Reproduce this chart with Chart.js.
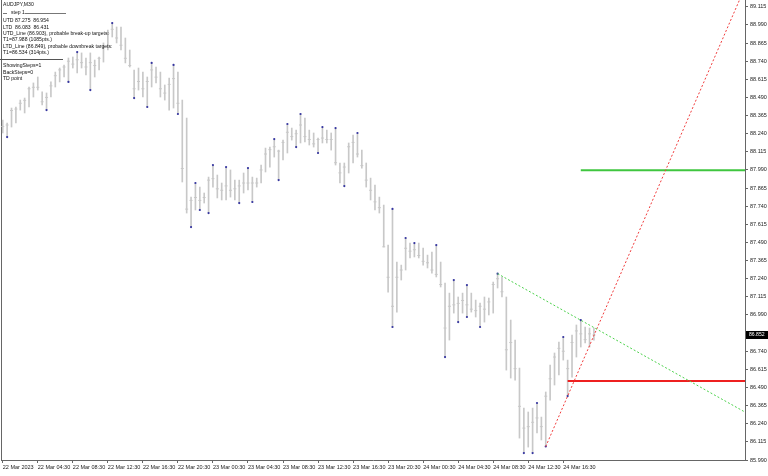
<!DOCTYPE html>
<html>
<head>
<meta charset="utf-8">
<script src="https://cdn.jsdelivr.net/npm/chart.js@4.4.0/dist/chart.umd.min.js"></script>
<style>
  body { margin: 0; background: #fff; }
  #wrap { width: 768px; height: 476px; }
</style>
</head>
<body>
<div id="wrap"><canvas id="chart" width="768" height="476"></canvas></div>
<script>
// AUDJPY M30 bars, 22 Mar 00:30 .. 24 Mar 20:00
const highs = [
  88.334, 88.314, 88.417, 88.424, 88.472, 88.486, 88.562, 88.590, 88.631, 88.528,
  88.521, 88.597, 88.665, 88.693, 88.714, 88.762, 88.769, 88.803, 88.797, 88.762,
  88.797, 88.748, 88.769, 88.866, 88.955, 89.003, 88.976, 88.976, 88.900, 88.817,
  88.679, 88.693, 88.665, 88.631, 88.728, 88.700, 88.665, 88.576, 88.624, 88.714,
  88.665, 88.472, 88.348, 87.803, 87.900, 87.872, 87.831, 87.941, 88.024, 87.955,
  87.900, 88.010, 87.990, 87.920, 87.920, 87.969, 88.003, 87.941, 87.934, 88.024,
  88.141, 88.148, 88.203, 88.127, 88.196, 88.307, 88.279, 88.265, 88.376, 88.348,
  88.265, 88.245, 88.210, 88.286, 88.265, 88.245, 88.279, 88.038, 88.038, 88.176,
  88.231, 88.245, 88.127, 88.038, 87.934, 87.886, 87.803, 87.748, 87.472, 87.721,
  87.355, 87.334, 87.521, 87.486, 87.486, 87.486, 87.452, 87.403, 87.424, 87.472,
  87.355, 87.210, 87.141, 87.231, 87.114, 87.141, 87.196, 87.141, 87.093, 87.072,
  87.114, 87.107, 87.217, 87.275, 87.252, 87.114, 86.955, 86.817, 86.624, 86.348,
  86.321, 86.348, 86.383, 86.286, 86.459, 86.645, 86.728, 86.803, 86.838, 86.679,
  86.852, 86.921, 86.954, 86.907, 86.900, 86.900
];
const lows = [
  88.245, 88.217, 88.286, 88.314, 88.403, 88.383, 88.424, 88.493, 88.541, 88.438,
  88.403, 88.493, 88.562, 88.597, 88.631, 88.597, 88.693, 88.659, 88.693, 88.645,
  88.541, 88.631, 88.679, 88.734, 88.817, 88.907, 88.866, 88.817, 88.728, 88.700,
  88.486, 88.541, 88.493, 88.424, 88.562, 88.590, 88.493, 88.472, 88.403, 88.417,
  88.376, 87.907, 87.693, 87.596, 87.714, 87.714, 87.762, 87.693, 87.872, 87.797,
  87.783, 87.783, 87.803, 87.783, 87.762, 87.831, 87.852, 87.769, 87.872, 87.900,
  87.976, 88.010, 88.079, 87.920, 88.059, 88.107, 88.196, 88.148, 88.176, 88.183,
  88.162, 88.148, 88.107, 88.176, 88.176, 88.127, 88.024, 87.900, 87.879, 87.969,
  88.038, 88.079, 88.003, 87.872, 87.783, 87.714, 87.693, 87.459, 87.148, 86.907,
  87.010, 87.231, 87.300, 87.383, 87.390, 87.383, 87.334, 87.314, 87.279, 87.252,
  87.183, 86.700, 86.817, 87.003, 86.941, 87.003, 86.976, 87.010, 86.976, 86.907,
  86.941, 86.990, 87.003, 87.176, 87.114, 86.610, 86.555, 86.541, 86.141, 86.038,
  86.079, 86.038, 86.176, 86.128, 86.083, 86.403, 86.507, 86.576, 86.679, 86.431,
  86.562, 86.700, 86.769, 86.797, 86.769, 86.817
];
const closes = [
  88.29, 88.30, 88.40, 88.41, 88.45, 88.47, 88.55, 88.56, 88.56, 88.46,
  88.49, 88.57, 88.64, 88.68, 88.70, 88.74, 88.72, 88.75, 88.73, 88.70,
  88.73, 88.71, 88.76, 88.84, 88.93, 88.96, 88.90, 88.85, 88.76, 88.71,
  88.55, 88.60, 88.55, 88.60, 88.68, 88.63, 88.55, 88.52, 88.58, 88.62,
  88.45, 88.00, 87.72, 87.78, 87.80, 87.78, 87.80, 87.92, 87.93, 87.86,
  87.85, 87.88, 87.85, 87.86, 87.88, 87.90, 87.90, 87.90, 87.90, 87.99,
  88.10, 88.13, 88.15, 88.12, 88.18, 88.25, 88.22, 88.24, 88.30, 88.22,
  88.20, 88.17, 88.20, 88.21, 88.20, 88.20, 88.04, 87.97, 88.01, 88.15,
  88.18, 88.10, 88.02, 87.92, 87.85, 87.77, 87.73, 87.46, 87.25, 87.05,
  87.25, 87.30, 87.45, 87.43, 87.44, 87.40, 87.36, 87.35, 87.30, 87.27,
  87.20, 86.90, 87.05, 87.06, 87.07, 87.09, 87.06, 87.03, 87.02, 87.05,
  87.03, 87.08, 87.20, 87.24, 87.15, 86.75, 86.80, 86.62, 86.36, 86.21,
  86.22, 86.25, 86.28, 86.22, 86.43, 86.55, 86.70, 86.76, 86.74, 86.62,
  86.80, 86.88, 86.86, 86.82, 86.86, 86.852
];

// fractal points (bar index)
const upPoints = [17, 25, 34, 39, 44, 48, 51, 56, 62, 65, 68, 73, 76, 81, 89, 92, 94, 99, 103, 106, 113, 122, 128, 132];
const downPoints = [1, 10, 15, 20, 30, 33, 40, 43, 45, 47, 54, 57, 63, 67, 72, 78, 89, 101, 104, 106, 109, 119, 121, 124, 129];

// TD lines: two anchor points each
const utdLine = [{x: 113, y: 87.275}, {x: 132, y: 86.954}];
const ltdLine = [{x: 124, y: 86.083}, {x: 129, y: 86.431}];
const upTarget = {from: 132, value: 87.988};
const downTarget = {from: 129, value: 86.534};

const xLabels = ['22 Mar 2023', '22 Mar 04:30', '22 Mar 08:30', '22 Mar 12:30', '22 Mar 16:30', '22 Mar 20:30',
  '23 Mar 00:30', '23 Mar 04:30', '23 Mar 08:30', '23 Mar 12:30', '23 Mar 16:30', '23 Mar 20:30',
  '24 Mar 00:30', '24 Mar 04:30', '24 Mar 08:30', '24 Mar 12:30', '24 Mar 16:30'];
const yTicks = [85.990, 86.115, 86.240, 86.365, 86.490, 86.615, 86.740, 86.865, 86.990, 87.115, 87.240,
  87.365, 87.490, 87.615, 87.740, 87.865, 87.990, 88.115, 88.240, 88.365, 88.490, 88.615, 88.740,
  88.865, 88.990, 89.115];

const infoLines = [
  'UTD 87.275  86.954',
  'LTD  86.083  86.431',
  'UTD_Line (86.903), probable break-up targets:',
  'T1=87.988 (1085pts.)',
  'LTD_Line (86.849), probable downbreak targets:',
  'T1=86.534 (314pts.)'
];
const infoLines2 = ['ShowingSteps=1', 'BackSteps=0', 'TD point'];

const xMin = -0.4, xMax = 169.5;
const yMin = 85.990, yMax = 89.162;
const FONT = '"Liberation Sans", Arial, sans-serif';

function extend(line) {
  let k = (line[1].y - line[0].y) / (line[1].x - line[0].x);
  return [line[0], {x: xMax, y: line[0].y + k * (xMax - line[0].x)}];
}

const ohlcBars = highs.map((h, i) => ({x: i, y: [lows[i], h]}));
const closeTicks = closes.map((c, i) => ({x: i, y: c}));
const upDots = upPoints.map(i => ({x: i, y: highs[i]}));
const downDots = downPoints.map(i => ({x: i, y: lows[i]}));

const overlay = {
  id: 'overlay',
  afterDraw(chart) {
    const ctx = chart.ctx;
    const ys = chart.scales.y;
    ctx.save();
    ctx.font = '5.1px ' + FONT;
    ctx.fillStyle = '#111';
    ctx.textBaseline = 'middle';
    ctx.fillText('AUDJPY,M30', 3, 5);
    // legend row
    ctx.strokeStyle = '#777';
    ctx.lineWidth = 1;
    ctx.beginPath();
    ctx.moveTo(3, 13.5); ctx.lineTo(7, 13.5);
    ctx.moveTo(25, 13.5); ctx.lineTo(66, 13.5);
    ctx.stroke();
    ctx.fillText('step 1', 11, 13);
    infoLines.forEach((t, i) => ctx.fillText(t, 3, 21 + i * 6.3));
    ctx.strokeStyle = '#555';
    ctx.beginPath();
    ctx.moveTo(0, 59.5); ctx.lineTo(63, 59.5);
    ctx.stroke();
    infoLines2.forEach((t, i) => ctx.fillText(t, 3, 66 + i * 6.5));

    // last price label
    let last = closes[closes.length - 1];
    let py = ys.getPixelForValue(last);
    let x0 = chart.chartArea.right + 1;
    ctx.fillStyle = '#000';
    ctx.fillRect(x0, py - 4, chart.width - x0, 8);
    ctx.fillStyle = '#fff';
    ctx.fillText(last.toFixed(3), x0 + 3, py);
    ctx.restore();
  }
};

new Chart(document.getElementById('chart'), {
  type: 'bar',
  data: {
    datasets: [
      {
        type: 'line', data: extend(utdLine), borderColor: '#4cd14c', borderWidth: 1,
        borderDash: [2, 2], pointRadius: 0, order: 1
      },
      {
        type: 'line', data: extend(ltdLine), borderColor: '#f03c3c', borderWidth: 1,
        borderDash: [2, 2], pointRadius: 0, order: 1
      },
      {
        type: 'line', data: [{x: upTarget.from, y: upTarget.value}, {x: xMax, y: upTarget.value}],
        borderColor: '#3fc63f', borderWidth: 2, pointRadius: 0, order: 1
      },
      {
        type: 'line', data: [{x: downTarget.from, y: downTarget.value}, {x: xMax, y: downTarget.value}],
        borderColor: '#ee2020', borderWidth: 2, pointRadius: 0, order: 1
      },
      {
        type: 'scatter', data: upDots.concat(downDots), pointRadius: 1.1,
        backgroundColor: '#3535a0', borderColor: '#3535a0', borderWidth: 0, order: 2
      },
      {
        type: 'scatter', data: closeTicks, pointStyle: 'line', pointRadius: 1.5,
        borderColor: '#c8c8c8', borderWidth: 1, order: 3
      },
      {
        data: ohlcBars, backgroundColor: '#c8c8c8', barThickness: 1, order: 4
      }
    ]
  },
  options: {
    responsive: false,
    animation: false,
    layout: { padding: 0, autoPadding: false },
    plugins: { legend: { display: false }, tooltip: { enabled: false } },
    scales: {
      x: {
        type: 'linear', min: xMin, max: xMax, offset: false,
        afterBuildTicks: s => { s.ticks = xLabels.map((l, i) => ({value: i * 8})); },
        afterFit: s => { s.height = 16; s.paddingLeft = 0; s.paddingRight = 0; },
        grid: { display: true, offset: false, drawOnChartArea: false, tickLength: 3, color: '#666' },
        border: { display: true, color: '#666' },
        ticks: {
          autoSkip: false, maxRotation: 0, align: 'start', padding: 1,
          color: '#222', font: { family: FONT, size: 5.5 },
          callback: (v, i) => xLabels[i]
        }
      },
      y: {
        type: 'linear', position: 'right', min: yMin, max: yMax,
        afterBuildTicks: s => { s.ticks = yTicks.map(v => ({value: v})); },
        afterFit: s => { s.width = 23; s.paddingTop = 0; s.paddingBottom = 0; },
        grid: { display: true, drawOnChartArea: false, tickLength: 3, color: '#666' },
        border: { display: true, color: '#666' },
        ticks: {
          padding: 2, color: '#222', font: { family: FONT, size: 5.5 },
          callback: v => v.toFixed(3)
        }
      },
      yLeft: {
        type: 'linear', position: 'left', min: yMin, max: yMax,
        afterFit: s => { s.width = 1; s.paddingTop = 0; s.paddingBottom = 0; },
        grid: { display: false },
        border: { display: true, color: '#666' },
        ticks: { display: false }
      }
    }
  },
  plugins: [overlay]
});
</script>
</body>
</html>
